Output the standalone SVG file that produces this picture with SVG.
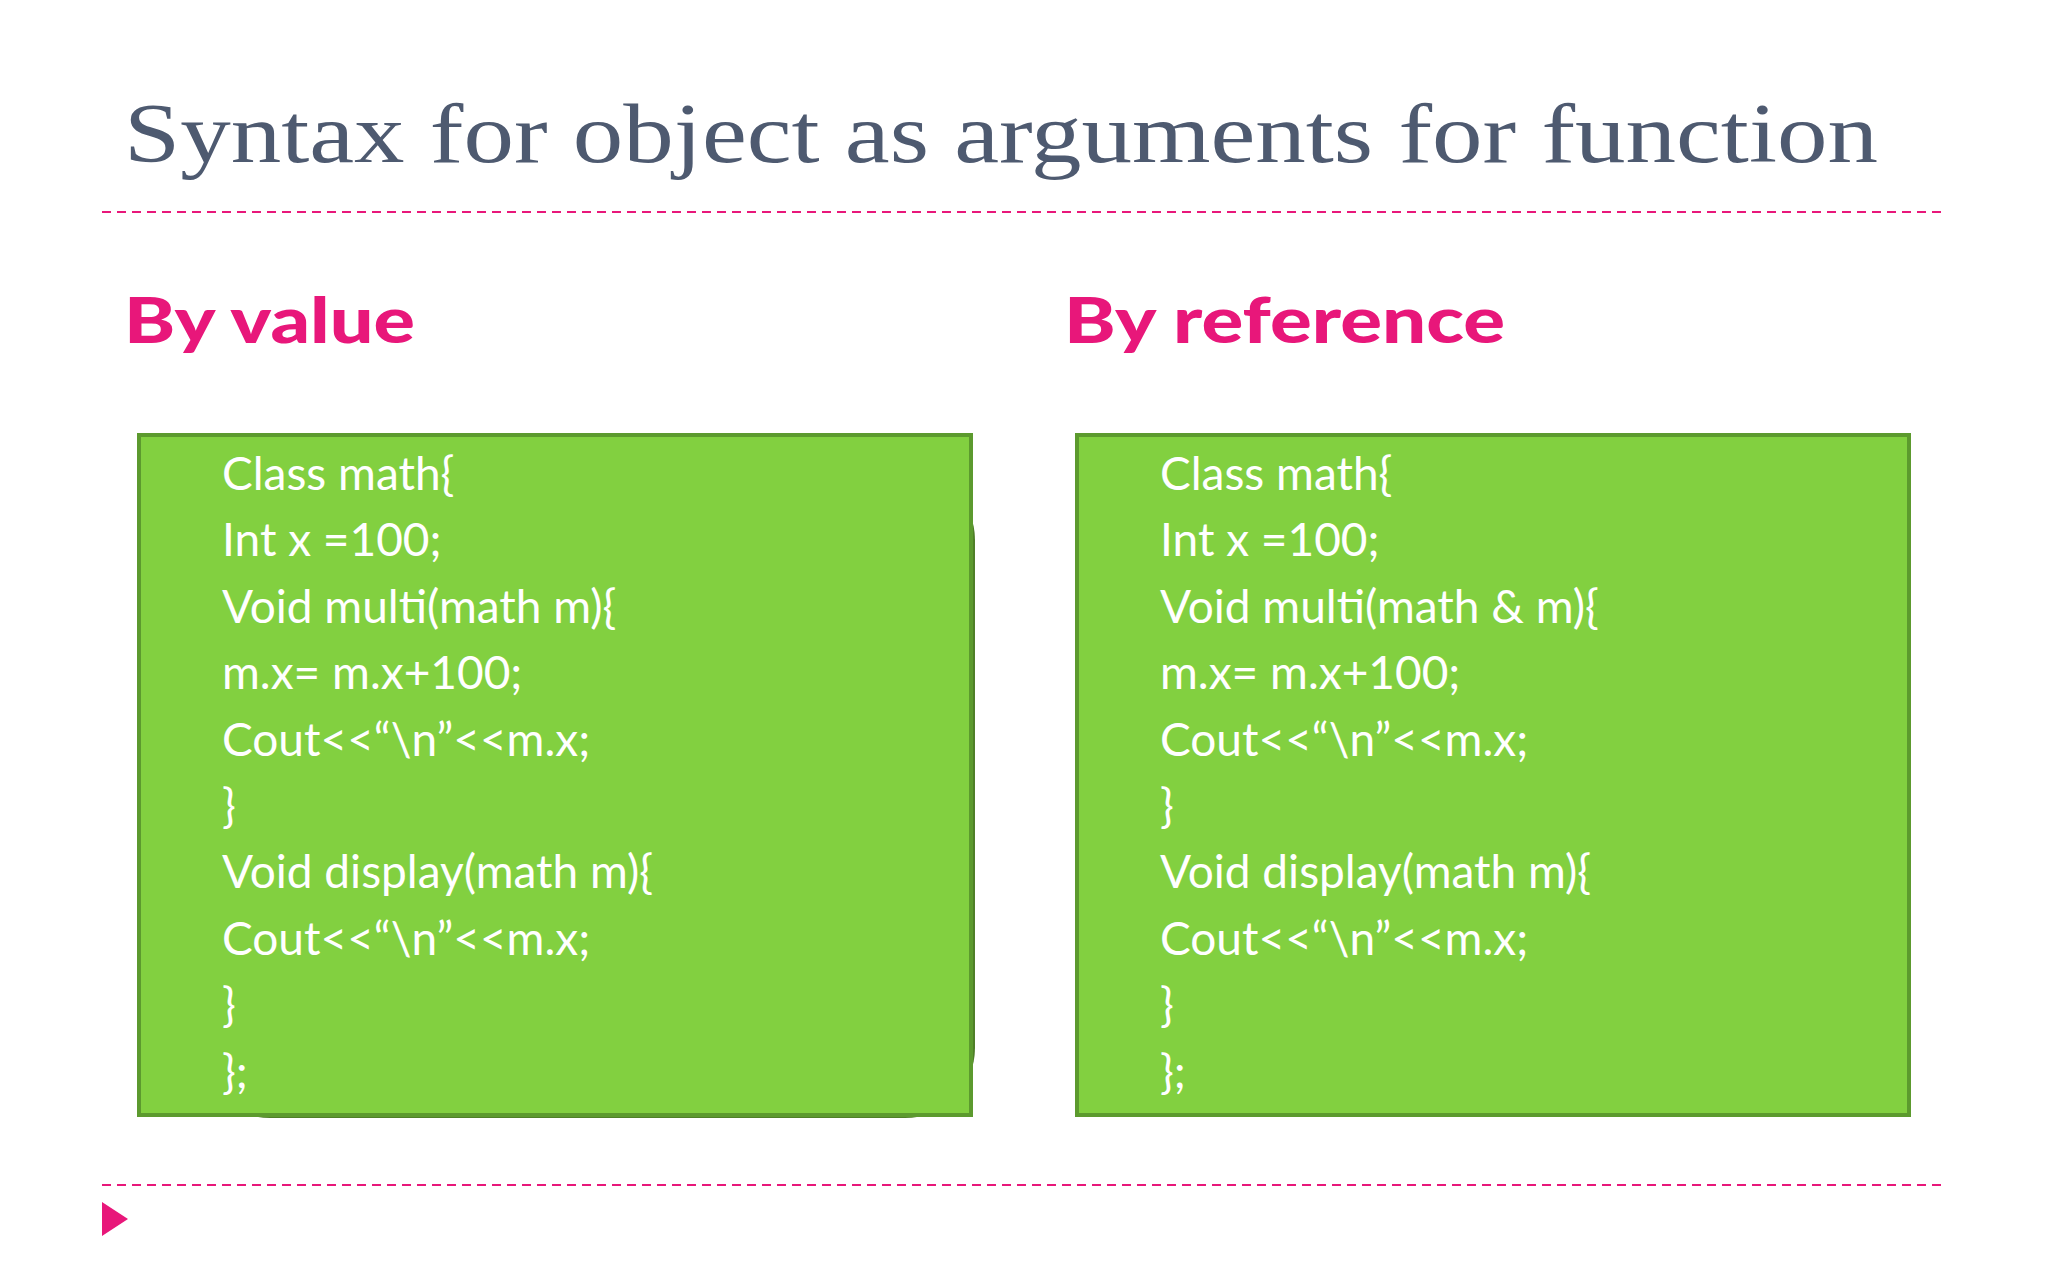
<svg xmlns="http://www.w3.org/2000/svg" width="2048" height="1280" viewBox="0 0 2048 1280">
<style>
.title{font-family:"Liberation Serif","DejaVu Serif",serif;font-size:84px;fill:#4e5a70}
.head{font-family:Lato,"Open Sans",sans-serif;font-weight:900;font-size:62px;fill:#e8177a}
.code{font-family:Lato,"Open Sans",sans-serif;font-size:46px;fill:#ffffff}
.box{fill:#82d040;stroke:#5c9a2e;stroke-width:4}
.dash{stroke:#e8177a;stroke-width:2;stroke-dasharray:9 6}
</style>
<rect width="2048" height="1280" fill="#ffffff"/>
<text class="title" x="124" y="162" textLength="1754" lengthAdjust="spacingAndGlyphs">Syntax for object as arguments for function</text>
<line class="dash" x1="102" y1="212" x2="1946" y2="212"/>
<line class="dash" x1="102" y1="1185" x2="1946" y2="1185"/>
<polygon points="102,1202 128,1219 102,1236" fill="#e8177a"/>
<g id="by-value">
<text class="head" x="124" y="343" textLength="291" lengthAdjust="spacingAndGlyphs">By value</text>
<rect x="200" y="470" width="775" height="648" rx="70" fill="#4f7f28"/>
<rect class="box" x="139" y="435" width="832" height="680"/>
<text class="code" x="222">
<tspan x="222" y="490">Class math{</tspan>
<tspan x="222" y="556">Int x =100;</tspan>
<tspan x="222" y="623">Void multi(math m){</tspan>
<tspan x="222" y="689">m.x= m.x+100;</tspan>
<tspan x="222" y="756">Cout&lt;&lt;“\n”&lt;&lt;m.x;</tspan>
<tspan x="222" y="822">}</tspan>
<tspan x="222" y="888">Void display(math m){</tspan>
<tspan x="222" y="955">Cout&lt;&lt;“\n”&lt;&lt;m.x;</tspan>
<tspan x="222" y="1021">}</tspan>
<tspan x="222" y="1088">};</tspan>
</text>
</g>
<g id="by-reference">
<text class="head" x="1064" y="343" textLength="441" lengthAdjust="spacingAndGlyphs">By reference</text>
<rect class="box" x="1077" y="435" width="832" height="680"/>
<text class="code">
<tspan x="1160" y="490">Class math{</tspan>
<tspan x="1160" y="556">Int x =100;</tspan>
<tspan x="1160" y="623">Void multi(math &amp; m){</tspan>
<tspan x="1160" y="689">m.x= m.x+100;</tspan>
<tspan x="1160" y="756">Cout&lt;&lt;“\n”&lt;&lt;m.x;</tspan>
<tspan x="1160" y="822">}</tspan>
<tspan x="1160" y="888">Void display(math m){</tspan>
<tspan x="1160" y="955">Cout&lt;&lt;“\n”&lt;&lt;m.x;</tspan>
<tspan x="1160" y="1021">}</tspan>
<tspan x="1160" y="1088">};</tspan>
</text>
</g>
<g id="connectors"/>
</svg>
